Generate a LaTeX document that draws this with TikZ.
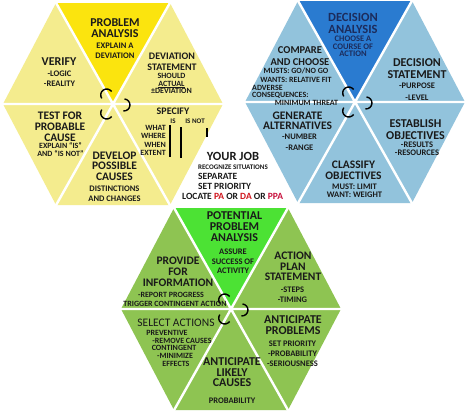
\documentclass[tikz,border=0pt]{standalone}
\usepackage{fontspec}
\setmainfont{Carlito}
\usetikzlibrary{calc}
\definecolor{ylight}{HTML}{F4EC8E}
\definecolor{ytop}{HTML}{FBE40E}
\definecolor{blight}{HTML}{92C3DC}
\definecolor{btop}{HTML}{2A7BD0}
\definecolor{glight}{HTML}{8EC452}
\definecolor{gtop}{HTML}{4CE234}
\definecolor{txt}{HTML}{1A1A1A}
\definecolor{navy}{HTML}{1C2C5C}
\definecolor{pared}{HTML}{D0141C}
\definecolor{ppared}{HTML}{C8103C}
\newcommand{\hexa}[4]{%
\begin{scope}[shift={(#1,#2)}]
  \fill[#3] (-110,0) -- (-57,-101) -- (57,-101) -- (110,0) -- (57,101) -- (-57,101) -- cycle;
  \fill[#4] (0,0) -- (-57,-101) -- (57,-101) -- cycle;
  \draw[white, line width=2.4pt] (-112,0) -- (112,0) (-58,-103) -- (58,103) (58,-103) -- (-58,103);
  \foreach \t in {235,5,125}
    \draw[line width=1.4pt, black] ($(\t:11)+(\t-90:6)$) arc[start angle=\t-90, end angle=\t+90, radius=6];
\end{scope}}
\tikzset{
  T/.style={font=\bfseries\fontsize{11.5}{11}\selectfont, text=txt, align=center, inner sep=0pt},
  S/.style={font=\bfseries\fontsize{8.5}{10}\selectfont, text=txt, align=center, inner sep=0pt},
  fs/.style 2 args={font=\bfseries\fontsize{#1}{#2}\selectfont},
}
\begin{document}
\begin{tikzpicture}[x=1pt, y=-1pt]
\useasboundingbox (0,0) rectangle (474,413);
\fill[white] (0,0) rectangle (474,413);
\hexa{113}{104}{ylight}{ytop}
\hexa{355}{102}{blight}{btop}
\hexa{231}{309}{glight}{gtop}

% ---------- yellow : problem analysis
\node[T, fs={12}{11.5}] (ya1) at (115,28.25) {PROBLEM\\ANALYSIS};
\node[S] (ya2) at (115,51) {EXPLAIN A\\DEVIATION};
\node[T, fs={10}{11}] (yb1) at (172,61.5) {DEVIATION\\STATEMENT};
\node[S, fs={8}{7.5}] (yb2) at (171.5,83.5) {SHOULD\\\underline{ACTUAL}\\±DEVIATION};
\node[T, fs={10}{11}] (yc1) at (173,111) {SPECIFY};
\node[S, fs={7}{8}] (yc2) at (173,121) {IS};
\node[S, fs={7}{8}] (yc3) at (195,121) {IS NOT};
\node[S, fs={8}{8.3}, align=right, anchor=east] (yc4) at (166,140.5) {WHAT\\WHERE\\WHEN\\EXTENT};
\draw[line width=1.5pt] (170,125) -- (170,157);
\draw[line width=1.5pt] (181,127) -- (181,158);
\draw[line width=1.5pt] (207,128) -- (207,137);
\node[T, fs={11.5}{10.5}] (yd1) at (114.5,166) {DEVELOP\\POSSIBLE\\CAUSES};
\node[S] (yd2) at (114.5,194) {DISTINCTIONS\\AND CHANGES};
\node[T, fs={11.5}{10.75}] (ye1) at (60,127) {TEST FOR\\PROBABLE\\CAUSE};
\node[S, fs={8}{7.2}] (ye2) at (60.5,149.5) {EXPLAIN ``IS''\\AND ``IS NOT''};
\node[T, fs={12}{12}] (yf1) at (59,62) {VERIFY};
\node[S] (yf2) at (59.5,78.5) {-LOGIC\\-REALITY};

% ---------- blue : decision analysis
\node[T, fs={12.5}{12}, text=navy] (ba1) at (353,23) {DECISION\\ANALYSIS};
\node[S, fs={8.5}{7.5}, text=navy] (ba2) at (353,46.5) {CHOOSE A\\COURSE OF\\ACTION};
\node[T, fs={10.5}{11.5}] (bb1) at (300,56) {COMPARE\\AND CHOOSE};
\node[S, fs={8}{8.5}] (bb2) at (296,75) {MUSTS: GO/NO GO\\WANTS: RELATIVE FIT};
\node[S, fs={8}{7}, align=left, anchor=west] (bb3) at (252,91.5) {ADVERSE\\CONSEQUENCES:};
\node[S, fs={8}{8}] (bb4) at (306.5,102.5) {MINIMUM THREAT};
\node[T, fs={12}{11.5}] (bc1) at (417,68.75) {DECISION\\STATEMENT};
\node[S, fs={8.5}{11.5}] (bc2) at (417,91.75) {-PURPOSE\\-LEVEL};
\node[T, fs={12}{11.5}] (bd1) at (415.5,129.5) {ESTABLISH\\OBJECTIVES};
\node[S, fs={8.5}{8}] (bd2) at (417,149) {-RESULTS\\-RESOURCES};
\node[T, fs={11.5}{11}] (be1) at (353.5,170.5) {CLASSIFY\\OBJECTIVES};
\node[S, fs={8.5}{8}] (be2) at (354.5,190.5) {MUST: LIMIT\\WANT: WEIGHT};
\node[T, fs={11.5}{10.5}] (bf1) at (297.5,121) {GENERATE\\ALTERNATIVES};
\node[S, fs={8.5}{11}] (bf2) at (299.5,142.5) {-NUMBER\\-RANGE};

% ---------- your job
\node[T, fs={12.5}{12}] (yj1) at (233,156) {YOUR JOB};
\node[S, fs={7}{8}, anchor=west] (yj2) at (198,167) {RECOGNIZE SITUATIONS};
\node[S, fs={9.5}{10}, anchor=west] (yj3) at (198,176) {SEPARATE};
\node[S, fs={9.5}{10}, anchor=west] (yj4) at (198,186) {SET PRIORITY};
\node[S, fs={9.5}{10}, anchor=west] (yj5) at (182,196) {LOCATE \textcolor{pared}{PA} OR \textcolor{pared}{DA} OR \textcolor{ppared}{PPA}};

% ---------- green : potential problem analysis
\node[T, fs={12}{11}] (ga1) at (234.5,227) {POTENTIAL\\PROBLEM\\ANALYSIS};
\node[S, fs={8.5}{9.5}] (ga2) at (233,261.5) {ASSURE\\SUCCESS OF\\ACTIVITY};
\node[T, fs={11.5}{10.5}] (gb1) at (293,266.5) {ACTION\\PLAN\\STATEMENT};
\node[S, fs={8.5}{10}] (gb2) at (292.5,295) {-STEPS\\-TIMING};
\node[T, fs={12}{11}] (gc1) at (293,325.5) {ANTICIPATE\\PROBLEMS};
\node[S, fs={8.5}{10}] (gc2) at (292.5,354) {SET PRIORITY\\-PROBABILITY\\-SERIOUSNESS};
\node[T, fs={12}{10.5}] (gd1) at (232,372.5) {ANTICIPATE\\LIKELY\\CAUSES};
\node[S] (gd2) at (232,401) {PROBABILITY};
\node[T, font=\mdseries\fontsize{11.5}{11}\selectfont] (ge1) at (176,323) {SELECT ACTIONS};
\node[S, fs={8}{8}] (ge2a) at (167,333) {PREVENTIVE};
\node[S, fs={8}{8}] (ge2b) at (182,340.5) {-REMOVE CAUSES};
\node[S, fs={8}{8}] (ge2c) at (174,348) {CONTINGENT};
\node[S, fs={8}{8}] (ge2d) at (175,356) {-MINIMIZE};
\node[S, fs={8}{8}] (ge2e) at (176,364) {EFFECTS};
\node[T, fs={11.5}{11}] (gf1) at (178,272) {PROVIDE\\FOR\\INFORMATION};
\node[S, fs={8}{8}] (gf2) at (171,295) {-REPORT PROGRESS};
\node[S, fs={8}{8}] (gf3) at (175,304) {TRIGGER CONTINGENT ACTION};
\end{tikzpicture}
\end{document}
